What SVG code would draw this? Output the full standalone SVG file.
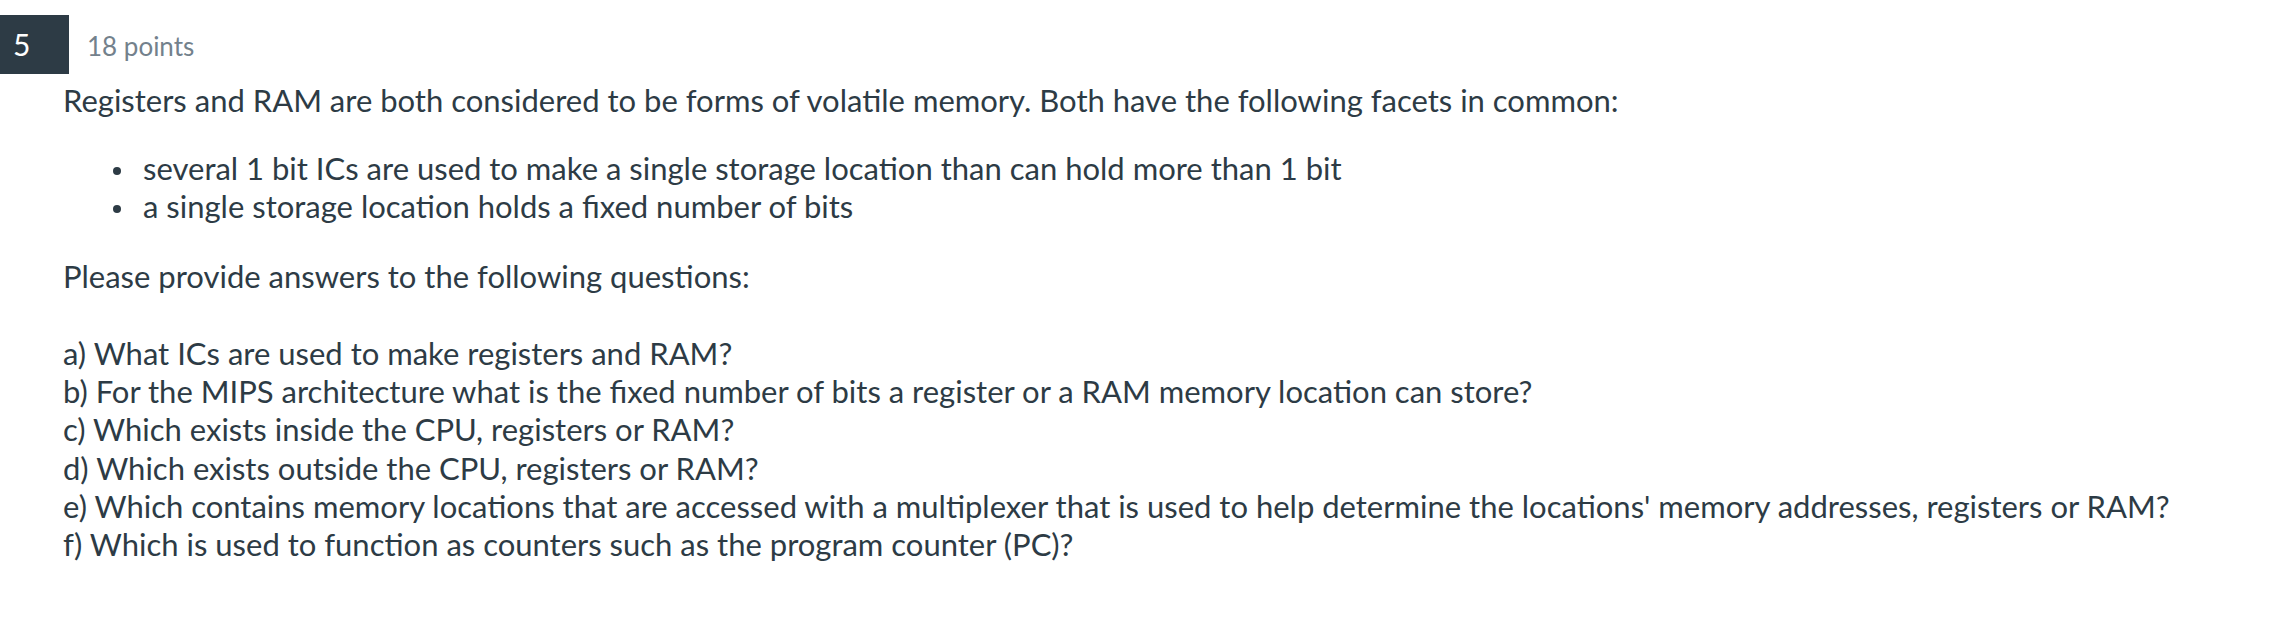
<svg xmlns="http://www.w3.org/2000/svg" width="2296" height="638" viewBox="0 0 2296 638">
<style>
.t{font-family:Lato,"Liberation Sans",sans-serif;font-size:31px;fill:#2d3b45}
.p{font-family:Lato,"Liberation Sans",sans-serif;font-size:26px;fill:#73818c}
.n{font-family:Lato,"Liberation Sans",sans-serif;font-size:30px;fill:#fff}
</style>
<rect width="2296" height="638" fill="#fff"/>
<g id="header">
<rect x="0" y="15" width="69" height="59" fill="#2d3b45"/>
<text class="n" x="13" y="56">5</text>
<text class="p" x="87" y="56">18 points</text>
</g>
<g id="body">
<text class="t" x="63" y="112">Registers and RAM are both considered to be forms of volatile memory.  Both have the following facets in common:</text>
<circle cx="117" cy="171" r="4" fill="#2d3b45"/>
<text class="t" x="143" y="180">several 1 bit ICs are used to make a single storage location than can hold more than 1 bit</text>
<circle cx="117" cy="209" r="4" fill="#2d3b45"/>
<text class="t" x="143" y="218">a single storage location holds a fixed number of bits</text>
<text class="t" x="63" y="288">Please provide answers to the following questions:</text>
<text class="t" x="63" y="365">a)  What ICs are used to make registers and RAM?</text>
<text class="t" x="63" y="403">b)  For the MIPS architecture what is the fixed number of bits a register or a RAM memory location can store?</text>
<text class="t" x="63" y="441">c)  Which exists inside the CPU, registers or RAM?</text>
<text class="t" x="63" y="480">d)  Which exists outside the CPU, registers or RAM?</text>
<text class="t" x="63" y="518">e)  Which contains memory locations that are accessed with a multiplexer that is used to help determine the locations' memory addresses, registers or RAM?</text>
<text class="t" x="63" y="556">f)  Which is used to function as counters such as the program counter (PC)?</text>
</g>
</svg>
